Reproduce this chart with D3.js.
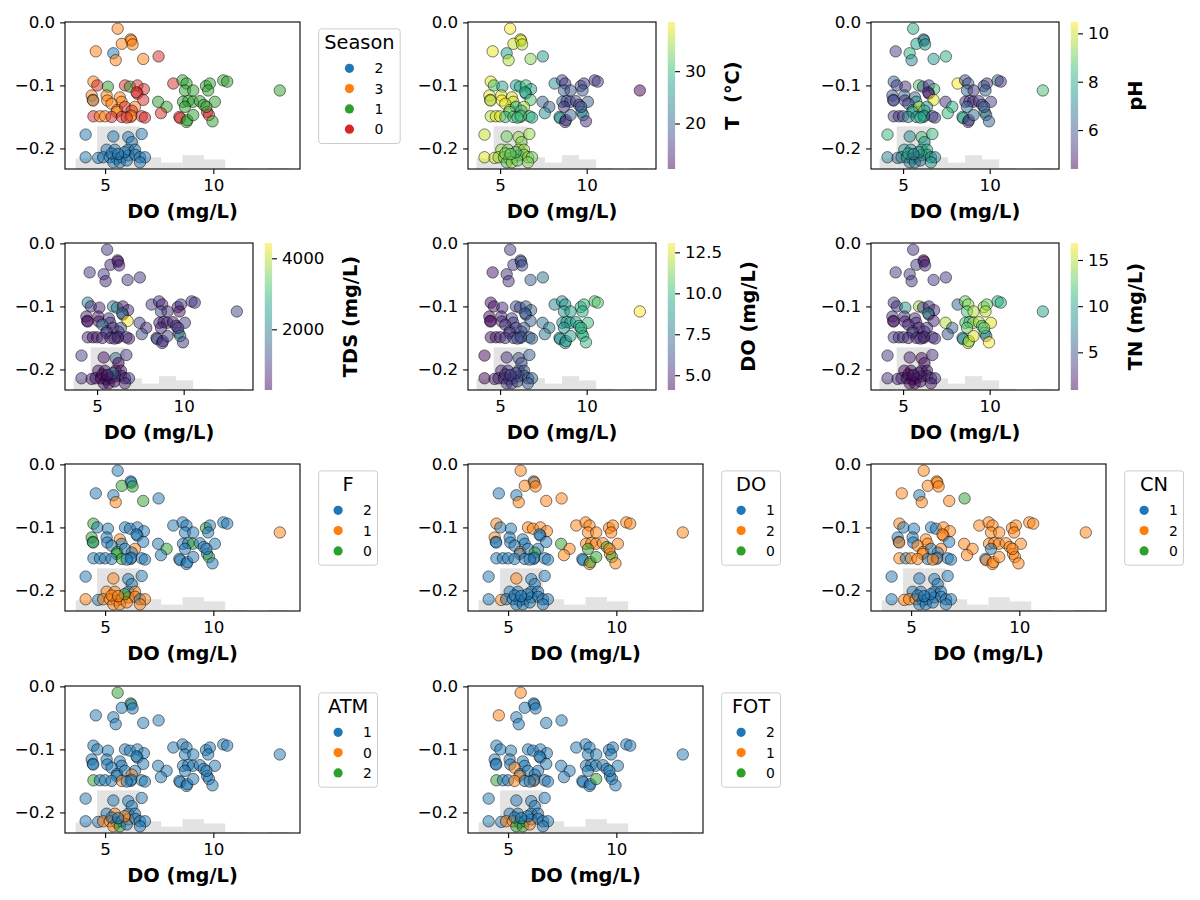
<!DOCTYPE html>
<html><head><meta charset="utf-8">
<script src="https://cdn.jsdelivr.net/npm/d3@7"></script>
<style>body{margin:0;background:#fff} svg text{font-family:"DejaVu Sans",sans-serif}</style>
</head><body><svg id="c" width="1200" height="900"></svg>
<script>
// ---------------- data ----------------
const doX = [
5.58,6.18,6.21,5.77,6.27,4.57,5.38,5.49,6.76,7.47,
4.46,4.64,5.13,5.92,6.15,6.49,6.79,6.49,6.45,6.76,
4.38,4.43,4.45,5.07,5.10,5.68,5.76,5.30,5.56,5.92,
6.38,6.23,5.53,4.46,4.76,5.00,5.30,5.77,6.18,6.21,
6.00,6.69,6.84,
8.15,8.58,8.76,8.69,9.07,9.66,9.84,9.76,10.46,10.64,
13.07,7.45,7.84,8.60,8.84,9.05,9.38,9.56,10.07,8.69,
7.58,8.43,8.47,8.76,8.80,9.07,9.71,9.80,9.68,9.96,
4.10,5.38,6.07,6.69,6.23,4.10,4.68,5.07,5.45,6.07,
6.38,4.91,5.22,5.53,5.76,6.07,6.38,6.61,6.84,5.38,
5.68,6.00,6.61,5.30,5.90,5.60];
const shapY = [
-0.010,-0.027,-0.029,-0.034,-0.035,-0.046,-0.049,-0.060,-0.058,-0.054,
-0.094,-0.100,-0.102,-0.100,-0.102,-0.100,-0.106,-0.113,-0.111,-0.123,
-0.116,-0.123,-0.124,-0.116,-0.124,-0.119,-0.126,-0.129,-0.139,-0.134,
-0.134,-0.140,-0.142,-0.149,-0.149,-0.149,-0.150,-0.150,-0.150,-0.148,
-0.151,-0.149,-0.151,
-0.097,-0.092,-0.097,-0.108,-0.108,-0.101,-0.097,-0.108,-0.092,-0.094,
-0.108,-0.126,-0.134,-0.126,-0.125,-0.126,-0.125,-0.131,-0.126,-0.134,
-0.144,-0.150,-0.152,-0.158,-0.155,-0.147,-0.142,-0.147,-0.134,-0.157,
-0.178,-0.181,-0.182,-0.177,-0.190,-0.214,-0.215,-0.202,-0.202,-0.202,
-0.202,-0.214,-0.214,-0.216,-0.214,-0.211,-0.210,-0.214,-0.214,-0.222,
-0.222,-0.219,-0.222,-0.208,-0.206,-0.209];
const season = [
3,3,3,3,3,3,2,3,3,0,
3,0,1,0,1,0,0,0,0,0,
3,2,3,3,3,3,3,3,3,0,
3,0,3,0,3,3,0,0,3,3,
0,0,0,
0,1,1,1,1,1,1,1,1,1,
1,1,1,1,1,1,1,1,1,1,
0,0,0,1,1,1,0,0,1,1,
2,2,2,2,2,2,2,2,2,2,
2,2,2,2,2,2,2,2,2,2,
2,2,2,2,2,2];
const tempC = [
39.4,38,37.5,37,36.5,38.5,27,36,34,26,
38,31,27,27,28,30,27,26,29,31,
38.5,30,39,38,39,37.5,37,38.5,35,29,
36,27,33,36,38,37.5,30,31,31,33,
29,30,28,
25,17,16,19,18,17,16,19,15,17,
11.3,20,19,22,16,18,17,16,19,15,
25,26,25,16,15,20,22,24,18,15,
37,33,35,35,34,38,37,35,33,36,
35,35,34,33,34,31,34,35,33,32,
35,33,34,34,31,33];
const phV = [
8.0,6.8,7.0,7.8,7.5,5.5,8.3,7.2,7.6,8.2,
6.2,5.5,5.2,8.8,6.0,5.4,8.5,4.39,5.0,10.2,
5.8,6.0,5.5,6.5,5.0,6.2,7.5,5.8,7.8,9.8,
7.5,7.9,7.6,5.2,5.3,5.6,7.2,7.5,7.8,7.6,
8.0,5.7,5.4,
10.47,5.6,6.0,6.3,5.3,5.8,5.5,6.2,6.5,5.3,
8.6,5.2,8.2,5.0,5.6,4.9,5.4,5.6,5.5,6.5,
8.4,7.8,8.0,5.1,5.6,6.4,8.3,6.0,6.0,6.3,
8.4,7.2,8.6,8.4,7.5,7.0,6.5,7.6,7.4,8.1,
8.2,7.0,7.6,6.8,7.2,8.6,7.8,7.5,7.2,6.8,
7.0,6.5,7.6,8.0,7.4,6.9];
const tds = [
900,600,500,800,700,900,1000,800,1000,900,
2200,900,700,1900,2100,600,800,500,2000,4431,
700,290,500,600,400,900,1000,1800,700,800,
1200,900,1300,700,600,500,800,600,500,700,
800,900,600,
1000,900,700,1200,800,600,900,500,1000,900,
1100,1000,800,700,600,900,500,800,1000,700,
1200,500,1500,900,800,1100,700,2300,1000,900,
1100,500,1600,1000,400,900,600,500,400,450,
600,500,400,350,450,500,700,600,1000,400,
450,500,800,400,1800,500];
const tn = [
3.0,1.5,1.2,3.5,3.0,3.5,3.8,3.3,3.6,3.4,
3.5,3.0,9.0,14.0,3.2,2.5,3.0,1.5,9.0,2.5,
3.2,2.0,1.8,3.0,2.2,2.8,3.0,2.5,3.4,2.0,
3.5,3.0,3.8,3.2,3.5,3.0,2.5,2.2,1.8,3.0,
2.5,2.8,3.2,
6.0,13,14,12,15,14,13,15,11,11,
10,15,6,12,11,14,15,12,16,13,
5,8,8.5,15.5,14,16,11,7,13,16.84,
3.5,2.5,1.5,3.0,1.8,3.2,2.8,1.5,1.2,2.0,
1.5,2.5,1.8,1.2,1.5,1.8,2.2,3.5,3.0,1.5,
0.92,1.5,2.0,1.2,2.5,1.8];
const fCat = [
2,2,2,0,0,2,2,1,0,2,
0,2,2,2,2,2,2,2,2,2,
0,2,0,2,2,1,2,2,0,2,
1,2,0,2,2,2,2,0,2,2,
2,2,2,
2,2,2,2,2,0,2,2,2,2,
1,2,0,2,2,0,2,2,2,2,
2,2,2,2,2,2,2,0,2,2,
2,1,2,2,2,1,2,1,1,2,
1,1,1,1,1,1,1,2,1,1,
1,1,1,1,0,1];
const doCat = [
2,1,2,2,2,1,1,2,2,2,
2,1,1,2,2,2,2,1,1,1,
2,1,1,1,1,1,1,1,2,1,
1,0,1,1,1,1,1,1,1,1,
1,1,1,
2,2,2,2,2,2,2,2,2,2,
2,0,2,2,2,2,2,0,2,0,
2,1,1,2,0,0,2,0,2,2,
1,2,1,1,1,1,2,1,1,1,
1,1,1,1,1,1,1,1,1,1,
1,1,1,1,1,1];
const cnCat = [
2,2,2,2,2,2,1,2,2,0,
2,1,1,1,1,2,2,2,2,1,
1,1,2,1,1,2,2,2,2,1,
2,1,2,2,1,2,2,1,2,1,
2,1,1,
2,2,2,2,2,2,2,2,2,2,
2,2,2,2,2,2,2,2,2,1,
2,1,2,2,2,2,2,2,2,2,
1,1,1,1,1,1,2,1,1,1,
1,2,2,1,1,1,1,1,1,1,
1,1,1,1,1,1];
const atmCat = [
2,2,1,1,1,1,1,1,1,1,
1,1,1,1,1,1,1,1,1,1,
1,1,1,1,1,1,1,1,1,1,
1,0,1,2,1,1,1,0,1,1,
1,1,1,
1,1,1,1,1,1,1,1,1,1,
1,1,1,1,1,1,1,1,1,1,
1,1,1,1,1,1,1,1,1,1,
1,1,1,1,1,1,1,1,0,1,
1,0,0,1,1,0,1,1,1,0,
2,1,1,1,0,1];
const fotCat = [
1,2,2,2,2,1,2,2,2,2,
2,2,2,2,2,2,2,2,2,2,
2,2,2,2,2,2,2,1,2,2,
2,2,1,0,2,2,1,2,1,2,
2,2,2,
2,2,2,2,2,2,2,2,2,2,
2,2,2,2,2,2,2,2,2,2,
2,2,2,2,2,0,2,2,2,2,
2,2,2,2,2,2,2,2,2,2,
2,1,1,0,2,2,2,2,2,0,
0,1,2,2,2,2];
const seasonLevels = [2,3,1,0];
const fLevels = [2,1,0];
const doLevels = [1,2,0];
const cnLevels = [1,2,0];
const atmLevels = [1,0,2];
const fotLevels = [2,1,0];
const histRange = [3.64, 13.51];
const histCounts = [10,40,40,11,6,13,9,1,0,1];
const xTicks = [5,10];
const yTicks = [-0.2,-0.1,0.0];
const tempTicks = [20,30];
const phTicks = [6,8,10];
const tdsTicks = [2000,4000];
const doTicks = [5.0,7.5,10.0,12.5];
const tnTicks = [5,10,15];

// ---------------- layout ----------------
const panels = [
 {row:0,col:0,type:'cat',title:'Season',values:season,levels:seasonLevels},
 {row:0,col:1,type:'cont',label:'T  (°C)',values:tempC,ticks:tempTicks,fmt:'d'},
 {row:0,col:2,type:'cont',label:'pH',values:phV,ticks:phTicks,fmt:'d'},
 {row:1,col:0,type:'cont',label:'TDS (mg/L)',values:tds,ticks:tdsTicks,fmt:'d'},
 {row:1,col:1,type:'cont',label:'DO (mg/L)',values:doX,ticks:doTicks,fmt:'.1f'},
 {row:1,col:2,type:'cont',label:'TN (mg/L)',values:tn,ticks:tnTicks,fmt:'d'},
 {row:2,col:0,type:'cat',title:'F',values:fCat,levels:fLevels},
 {row:2,col:1,type:'cat',title:'DO',values:doCat,levels:doLevels},
 {row:2,col:2,type:'cat',title:'CN',values:cnCat,levels:cnLevels},
 {row:3,col:0,type:'cat',title:'ATM',values:atmCat,levels:atmLevels},
 {row:3,col:1,type:'cat',title:'FOT',values:fotCat,levels:fotLevels}
];
const svg = d3.select('#c');
const W_FULL=235, W_CB=188, AX_H=147;
const rowTop=[22,243,464,686], colLeft=[65,468,871];
const TICK=4.9, PAD=4.9, TICK_FS=16.7, LABEL_FS=19.4, LEG_FS=13.9, LEG_TITLE_FS=19.4;
const HIST_FRAC=0.29, R=5.7;
const tab10 = d3.schemeCategory10;

function textW(str, size, weight){
  const t = svg.append('text').attr('font-size',size).attr('font-weight',weight||'normal').text(str);
  const w = t.node().getComputedTextLength(); t.remove(); return w;
}

const xPad = 0.05*(histRange[1]-histRange[0]);
const xDomain=[histRange[0]-xPad, histRange[1]+xPad];
const yExt=d3.extent(shapY); const yPad=0.05*(yExt[1]-yExt[0]);
const yDomain=[yExt[0]-yPad, yExt[1]+yPad];
const binW=(histRange[1]-histRange[0])/histCounts.length;
const idx = doX.map((d,i)=>i);

panels.forEach(p=>{
  const x0=colLeft[p.col], y0=rowTop[p.row];
  const w = p.type==='cat'?W_FULL:W_CB;
  const g=svg.append('g').attr('transform',`translate(${x0},${y0})`);
  const x=d3.scaleLinear().domain(xDomain).range([0,w]);
  const y=d3.scaleLinear().domain(yDomain).range([AX_H,0]);
  const y2=d3.scaleLinear().domain([0,d3.max(histCounts)/HIST_FRAC]).range([AX_H,0]);
  g.selectAll('rect.h').data(histCounts).join('rect').attr('class','h')
    .attr('x',(d,i)=>x(histRange[0]+i*binW))
    .attr('width',(d,i)=>x(histRange[0]+(i+1)*binW)-x(histRange[0]+i*binW))
    .attr('y',d=>y2(d)).attr('height',d=>AX_H-y2(d)).attr('fill','#e3e3e3');
  let color;
  if(p.type==='cat'){ color=v=>tab10[p.levels.indexOf(v)]; }
  else { color=d3.scaleSequential(d3.interpolateViridis).domain(d3.extent(p.values)); }
  g.selectAll('circle.p').data(idx).join('circle').attr('class','p')
    .attr('cx',i=>x(doX[i])).attr('cy',i=>y(shapY[i])).attr('r',R)
    .attr('fill',i=>color(p.values[i])).attr('fill-opacity',0.5)
    .attr('stroke','#000').attr('stroke-opacity',0.5).attr('stroke-width',1);
  g.append('rect').attr('width',w).attr('height',AX_H).attr('fill','none')
    .attr('stroke','#000').attr('stroke-width',1.1);
  const xa=g.append('g').attr('transform',`translate(0,${AX_H})`)
    .call(d3.axisBottom(x).tickValues(xTicks).tickSize(TICK).tickPadding(PAD).tickFormat(d3.format('d')));
  const ya=g.append('g')
    .call(d3.axisLeft(y).tickValues(yTicks).tickSize(TICK).tickPadding(PAD).tickFormat(d3.format('.1f')));
  [xa,ya].forEach(a=>{a.select('.domain').remove();
    a.attr('font-family',null).attr('font-size',null);
    a.selectAll('text').attr('font-size',TICK_FS).attr('fill','#000');
    a.selectAll('line').attr('stroke','#000').attr('stroke-width',1.1);});
  g.append('text').attr('x',w/2).attr('y',AX_H+49).attr('text-anchor','middle')
    .attr('font-size',LABEL_FS).attr('font-weight','bold').text('DO (mg/L)');

  if(p.type==='cont'){
    const cbx = w + 0.05*W_FULL, cbw = AX_H/20;
    const gid='grad'+p.row+p.col;
    const grad=svg.append('defs').append('linearGradient').attr('id',gid)
      .attr('x1',0).attr('y1',1).attr('x2',0).attr('y2',0);
    d3.range(0,1.0001,0.05).forEach(t=>grad.append('stop').attr('offset',t).attr('stop-color',d3.interpolateViridis(t)));
    g.append('rect').attr('x',cbx).attr('y',0).attr('width',cbw).attr('height',AX_H)
      .attr('fill',`url(#${gid})`).attr('fill-opacity',0.5);
    const cs=d3.scaleLinear().domain(color.domain()).range([AX_H,0]);
    const ca=g.append('g').attr('transform',`translate(${cbx+cbw},0)`)
      .call(d3.axisRight(cs).tickValues(p.ticks).tickSize(TICK).tickPadding(PAD).tickFormat(d3.format(p.fmt)));
    ca.select('.domain').remove();
    ca.attr('font-family',null).attr('font-size',null);
    ca.selectAll('text').attr('font-size',TICK_FS).attr('fill','#000');
    ca.selectAll('line').attr('stroke','#000').attr('stroke-width',1.1);
    const maxW=d3.max(p.ticks,t=>textW(d3.format(p.fmt)(t),TICK_FS));
    const lx = cbx+cbw+TICK+PAD+maxW+26;
    g.append('text').attr('transform',`translate(${lx},${AX_H/2}) rotate(-90)`)
      .attr('text-anchor','middle').attr('dominant-baseline','central')
      .attr('font-size',LABEL_FS).attr('font-weight','bold')
      .style('white-space','pre').text(p.label);
  } else {
    const bl = w + 0.05*w + 6.9, bt = 6.9, bp = 0.4*LEG_FS;
    const tw = textW(p.title, LEG_TITLE_FS);
    const lw = d3.max(p.levels, v=>textW(String(v),LEG_FS));
    const ew = 2*LEG_FS + 0.8*LEG_FS + lw;
    const cw = Math.max(tw, ew);
    const bw = cw + 2*bp;
    const n = p.levels.length;
    const bh = 39.4 + (n-1)*20.3 + 14.3;
    const lg = g.append('g').attr('transform',`translate(${bl},${bt})`);
    lg.append('rect').attr('width',bw).attr('height',bh).attr('rx',2.8)
      .attr('fill','#fff').attr('fill-opacity',0.8).attr('stroke','#cccccc').attr('stroke-width',1);
    lg.append('text').attr('x',bw/2).attr('y',14).attr('text-anchor','middle')
      .attr('dominant-baseline','central').attr('font-size',LEG_TITLE_FS).text(p.title);
    const es = bp + (cw-ew)/2;
    p.levels.forEach((v,i)=>{
      const cy = 39.4 + i*20.3;
      lg.append('circle').attr('cx',es+LEG_FS).attr('cy',cy).attr('r',4.6).attr('fill',tab10[i]);
      lg.append('text').attr('x',es+2.8*LEG_FS).attr('y',cy).attr('dominant-baseline','central')
        .attr('font-size',LEG_FS).text(String(v));
    });
  }
});
</script></body></html>
